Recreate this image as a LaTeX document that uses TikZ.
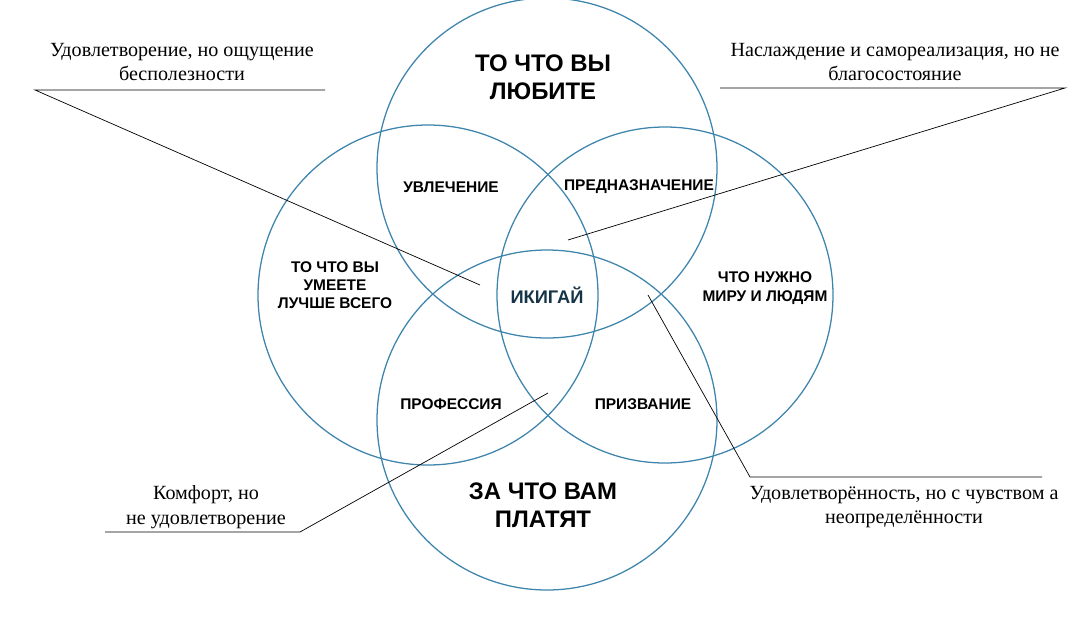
\documentclass[tikz,border=0pt]{standalone}
\usepackage{fontspec}
\setmainfont{Liberation Serif}
\newfontfamily\labelfont{Liberation Sans}
\usetikzlibrary{positioning}
\definecolor{ringblue}{RGB}{62,132,172}
\definecolor{ikigaiteal}{RGB}{22,52,72}
\tikzset{
  ring/.style={draw=ringblue,line width=0.9pt},
  zone/.style={font=\labelfont\bfseries\fontsize{11}{13}\selectfont,align=center},
  bigzone/.style={font=\labelfont\bfseries\fontsize{17}{20}\selectfont,align=center},
  note/.style={font=\fontsize{14.3}{17.5}\selectfont,align=center},
  pointer/.style={draw=black,line width=0.5pt}
}
\begin{document}
\begin{tikzpicture}[x=0.025cm,y=-0.025cm]
\useasboundingbox (0,0) rectangle (1080,619);

% circles
\draw[ring] (547,168) circle (170);
\draw[ring] (428,295) circle (170);
\draw[ring] (665,295) circle (168);
\draw[ring] (547,420) circle (170);

% circle labels
\node[bigzone] (love) at (543,77) {ТО ЧТО ВЫ\\ЛЮБИТЕ};
\node[zone] (good) at (335,285) {ТО ЧТО ВЫ\\УМЕЕТЕ\\ЛУЧШЕ ВСЕГО};
\node[zone] (need) at (765,288) {ЧТО НУЖНО\\МИРУ И ЛЮДЯМ};
\node[bigzone] (paid) at (543,505) {ЗА ЧТО ВАМ\\ПЛАТЯТ};

% overlaps
\node[zone] (passion) at (451,187) {УВЛЕЧЕНИЕ};
\node[zone] (mission) at (639,187) {ПРЕДНАЗНАЧЕНИЕ};
\node[zone] (profession) at (451,404) {ПРОФЕССИЯ};
\node[zone] (vocation) at (643,404) {ПРИЗВАНИЕ};
\node[zone,text=ikigaiteal,font=\labelfont\bfseries\fontsize{13}{15}\selectfont] (ikigai) at (547,295) {ИКИГАЙ};

% notes
\node[note] (nuseless) at (182,62) {Удовлетворение, но ощущение\\бесполезности};
\node[note] (nwealth) at (895,62) {Наслаждение и самореализация, но не\\благосостояние};
\node[note] (ncomfort) at (206,507) {Комфорт, но\\не удовлетворение};
\node[note] (nunsure) at (904,507) {Удовлетворённость, но с чувством а\\неопределённости};

% pointers
\coordinate (ua) at (35,90);   \coordinate (ub) at (325,90);   \coordinate (ut) at (480,285);
\coordinate (wa) at (720,88);  \coordinate (wb) at (1065,88);  \coordinate (wt) at (568,240);
\coordinate (ca) at (105,532); \coordinate (cb) at (300,532);  \coordinate (ct) at (548,393);
\coordinate (ra) at (750,477); \coordinate (rb) at (1042,477); \coordinate (rt) at (648,295);
\draw[pointer] (ub) -- (ua) -- (ut);
\draw[pointer] (wa) -- (wb) -- (wt);
\draw[pointer] (ca) -- (cb) -- (ct);
\draw[pointer] (rb) -- (ra) -- (rt);
\end{tikzpicture}
\end{document}
